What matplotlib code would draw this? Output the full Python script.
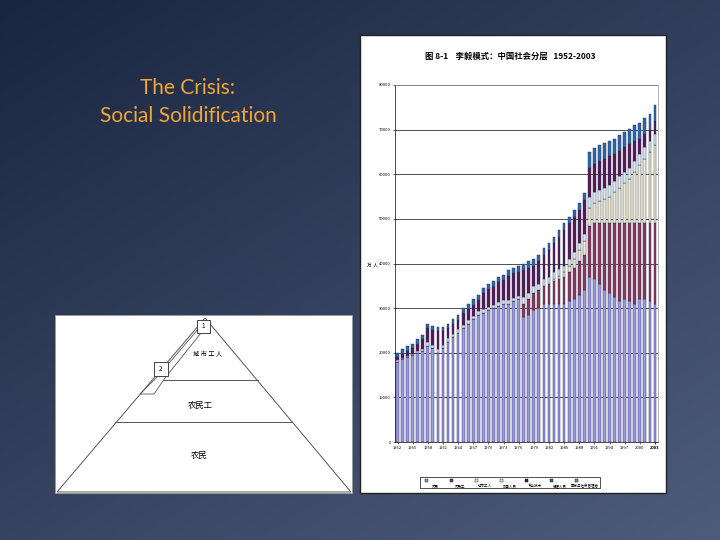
import numpy as np
import matplotlib
matplotlib.use("Agg")
import matplotlib.pyplot as plt
from matplotlib.patches import Rectangle, Polygon

plt.rcParams['font.family'] = ['Noto Sans CJK SC', 'DejaVu Sans']

years = list(range(1952, 2004))
peasants = [18000,18500,19000,19500,20000,20500,21500,21000,20000,21000,
            22500,23500,24500,25500,26500,27500,28500,29000,29500,30000,
            30500,31000,31000,31500,32000,28000,28500,29500,30000,31000,
            31000,31000,31000,31000,31500,32000,33000,34000,
            37000,36500,35500,34000,33500,32500,31500,32000,31500,31000,32000,32000,31500,31000]
migrant = [0]*25 + [3000,3500,4000,4000,4000,4500,5000,5500,6000,6500,7000,7500,8000,
            11500,12500,13500,15000,15500,16500,17500,17000,17500,18000,17000,17000,17500,18000]
cream = [0]*31 + [500,800,1000,1500,2000,2500,3000,
            4000,4500,5000,5500,6000,7000,8000,9000,10000,11500,13000,14500,16000,17500]
white = [300]*6 + [800]*19 + [1500]*13 + [2500]*14
purple = [700,1000,1200,1200,1700,2200,3200,3200,4000,3000,
          2200,2200,2000,2500,2500,2500,2500,3500,4000,4000,
          4500,4500,5500,5500,5200,6000,5500,4500,5000,5500,
          6000,6500,7200,8000,8000,8000,7500,7800,
          6500,6300,6500,6500,6500,6000,5800,5500,5200,4500,3500,3000,2500,3000]
blue = [1000]*12 + [1200]*12 + [1500]*14 + [3500]*14
series = [peasants, migrant, cream, white, purple, blue]
colors = ['#9a9ae0', '#8a3a5c', '#efeccb', '#d9eef0', '#561a56', '#2c6aa6']
legend_labels = ['农民', '农民工', '城市工人', '办事人员', '专业技术', '经理人员', '国家与社会管理者']
xtick_years = list(range(1952, 2004, 3)) + [2003]
yticks = list(range(0, 80001, 10000))

W, H = 720, 540
fig = plt.figure(figsize=(7.2, 5.4), dpi=100)
bg = fig.add_axes([0, 0, 1, 1])
bg.set_xlim(0, W); bg.set_ylim(H, 0); bg.axis('off')
gx, gy = np.meshgrid(np.linspace(0, 1, 200), np.linspace(0, 1, 150))
g = 0.55 * gy + 0.45 * gx
c0 = np.array([0x1a, 0x26, 0x40]) / 255; c1 = np.array([0x4e, 0x5c, 0x7c]) / 255
img = c0[None, None, :] * (1 - g[..., None]) + c1[None, None, :] * g[..., None]
bg.imshow(img, extent=[0, W, H, 0], aspect='auto', zorder=0)

bg.text(188, 88, "The Crisis:", color='#f2a533', fontsize=15, ha='center', va='center', family='Lato')
bg.text(188, 116, "Social Solidification", color='#f2a533', fontsize=15, ha='center', va='center', family='Lato')

# chart panel
bg.add_patch(Rectangle((360, 35), 306, 458, facecolor='white', edgecolor='#222222', lw=1, zorder=1))
bg.text(510, 56, "图 8-1    李毅模式：中国社会分层   1952-2003", fontsize=6, weight='bold',
        ha='center', va='center', zorder=3)
bg.text(372, 265, "万 人", fontsize=3.5, ha='center', va='center', zorder=3)
bg.add_patch(Rectangle((420, 477), 180, 11, facecolor='white', edgecolor='#333333', lw=0.6, zorder=3))
for i, lab in enumerate(legend_labels):
    x = 425 + i * 25
    bg.add_patch(Rectangle((x, 479), 2.5, 2.5, facecolor=(colors + ['#888888'])[i], edgecolor='k', lw=0.3, zorder=4))
    bg.text(x + 10, 486, lab, fontsize=2.5, ha='center', va='center', zorder=4)

# pyramid panel
bg.add_patch(Rectangle((55, 315), 297, 178, facecolor='white', edgecolor='#999999', lw=0.6, zorder=1))
bg.add_patch(Polygon([(205, 318), (57, 492), (351, 492)], closed=True, fill=False, edgecolor='#555555', lw=0.7, zorder=2))
bg.plot([163, 258], [380, 380], color='#555555', lw=0.7, zorder=2)
bg.plot([115, 292], [422, 422], color='#555555', lw=0.7, zorder=2)
bg.plot([199, 159, 140, 154, 165, 201], [328, 375, 394, 394, 378, 333], color='#555555', lw=0.6, zorder=2)
bg.add_patch(Rectangle((197, 320), 13, 13, facecolor='white', edgecolor='#444444', lw=0.7, zorder=3))
bg.text(203.5, 326.5, "1", fontsize=4.5, ha='center', va='center', zorder=4)
bg.add_patch(Rectangle((154, 362), 14, 14, facecolor='white', edgecolor='#444444', lw=0.7, zorder=3))
bg.text(161, 369, "2", fontsize=4.5, ha='center', va='center', zorder=4)
bg.text(208, 353, "城 市 工 人", fontsize=4.5, ha='center', va='center', zorder=3)
bg.text(200, 405, "农民工", fontsize=6, ha='center', va='center', zorder=3)
bg.text(199, 455, "农民", fontsize=6, ha='center', va='center', zorder=3)

# bar chart
ax = fig.add_axes([395 / W, (H - 442) / H, 263 / W, 357 / H])
ax.set_zorder(5)
bottom = np.zeros(len(years))
for vals, col in zip(series, colors):
    ax.bar(years, vals, bottom=bottom, width=0.55, color=col, edgecolor='#2a2a55', linewidth=0.3)
    bottom += np.array(vals)
ax.set_xlim(1951.5, 2003.6)
ax.set_ylim(0, 80000)
ax.set_yticks(yticks)
ax.set_yticklabels([str(v) for v in yticks], fontsize=3)
ax.set_xticks(xtick_years)
ax.set_xticklabels([str(v) for v in xtick_years], fontsize=3)
ax.tick_params(length=1.5, width=0.4, pad=1.5)
ax.yaxis.grid(True, color='#333333', lw=0.6)
ax.set_axisbelow(True)
for s in ['top', 'right']:
    ax.spines[s].set_color('#999999'); ax.spines[s].set_linewidth(0.5)
for s in ['left', 'bottom']:
    ax.spines[s].set_linewidth(0.5)
fig.savefig("out.png", dpi=100)
